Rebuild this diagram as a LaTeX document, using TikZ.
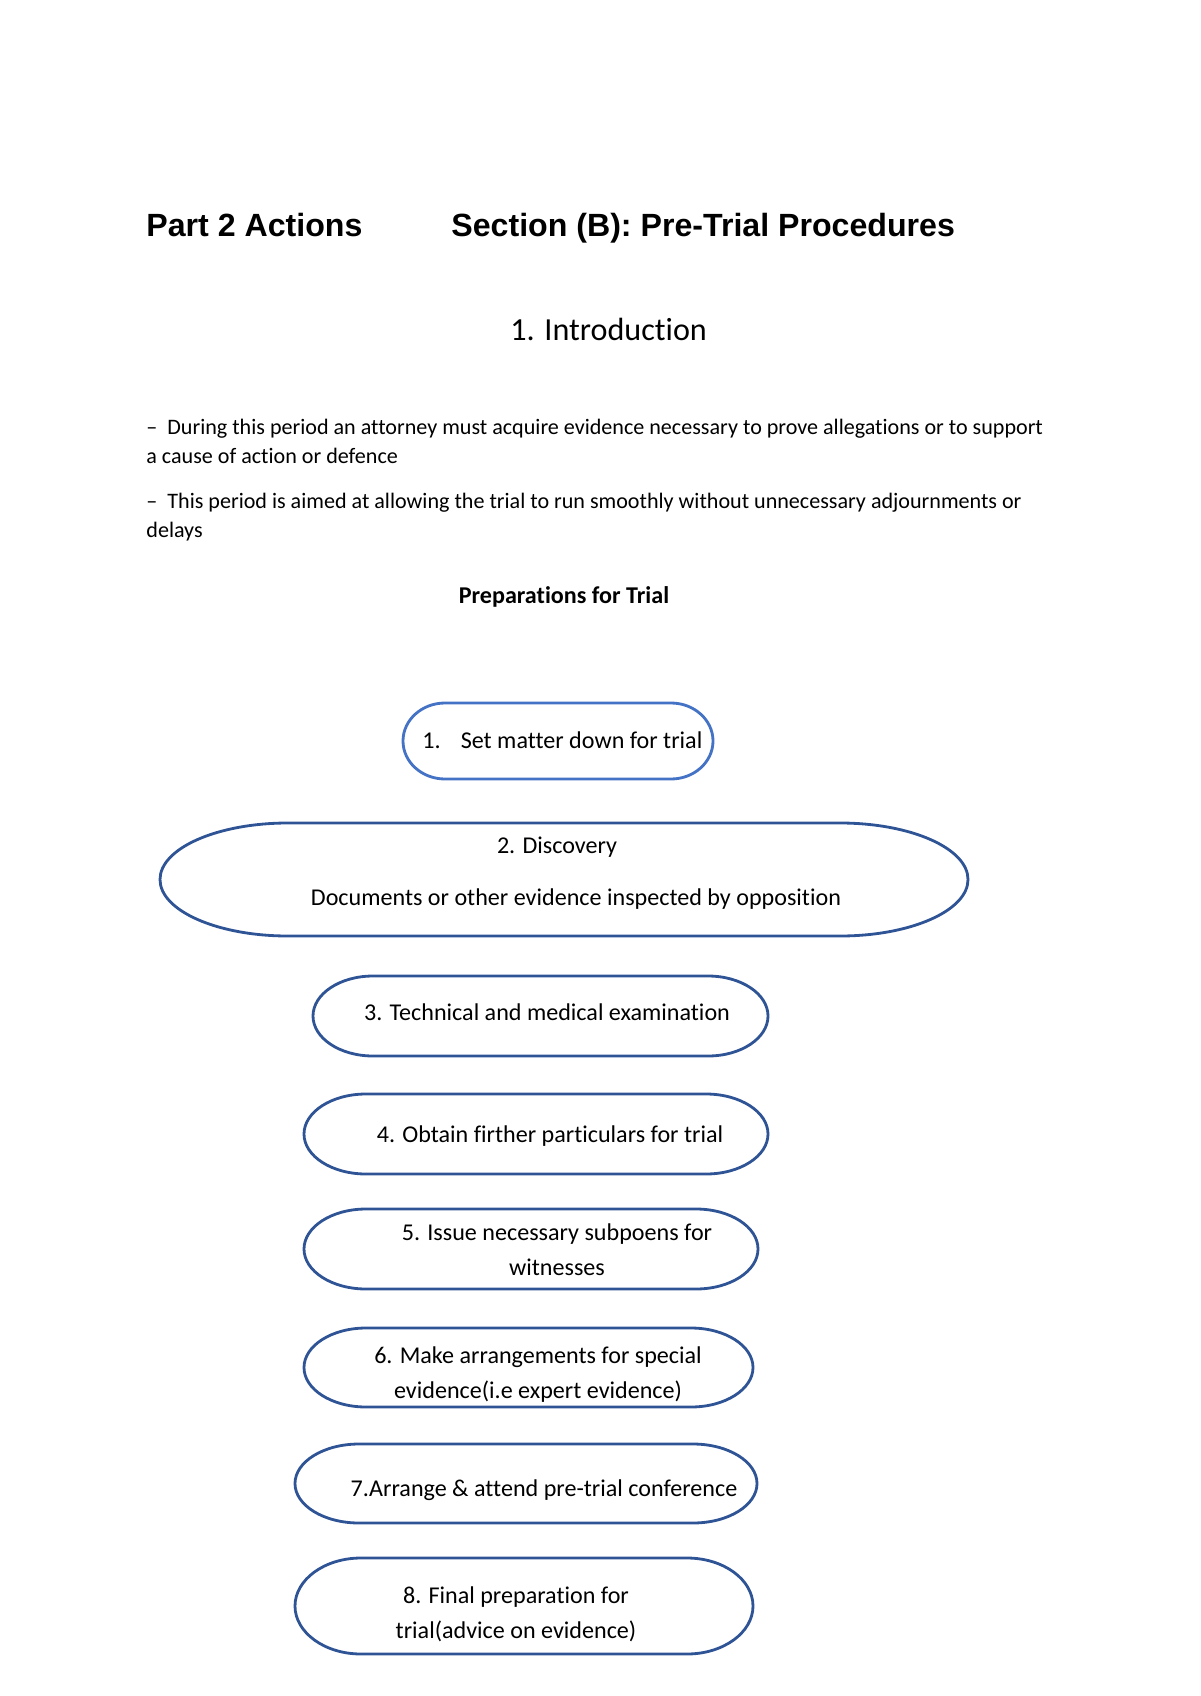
\documentclass[tikz,border=0pt]{standalone}
\usepackage{fontspec}
\setmainfont{Carlito}[Ligatures=CommonOff]
\newfontfamily\headfont{Liberation Sans}
\definecolor{pilllight}{HTML}{4472C4}
\definecolor{pilldark}{HTML}{2F5496}

\begin{document}
\begin{tikzpicture}[x=0.4979pt,y=-0.4979pt,
        boxtext/.style={font=\fontsize{12}{17.4}\selectfont,align=center,anchor=base,inner sep=0pt},
        bodytext/.style={font=\fontsize{11}{14.4}\selectfont,align=left,anchor=base west,inner sep=0pt}]
            \useasboundingbox (0,0) rectangle (1200,1696);
            % headings
            \node (part) at (146,237)[anchor=base west,inner sep=0pt]{\headfont\bfseries\fontsize{16}{19}\selectfont Part 2 Actions};
            \node (section) at (451,237)[anchor=base west,inner sep=0pt]{\headfont\bfseries\fontsize{16}{19}\selectfont Section (B): Pre-Trial Procedures};
            \node (intro) at (510,341)[anchor=base west,inner sep=0pt]{\fontsize{16}{19}\selectfont 1. Introduction};
            % base of a two-line node sits on its last line
            \node (during) at (146,463)[bodytext]{\textendash\ \ During this period an attorney must acquire evidence necessary to prove allegations or to support\\a cause of action or defence};
            \node (aimed) at (146,537)[bodytext]{\textendash\ \ This period is aimed at allowing the trial to run smoothly without unnecessary adjournments or\\delays};
            \node (prep) at (564,603)[anchor=base,inner sep=0pt]{\bfseries\fontsize{12}{14}\selectfont Preparations for Trial};
            % the eight steps
            \foreach \xa/\ya/\xb/\yb/\r/\c in {403/703/713/779/42/pilllight,160/823/968/936/128/pilldark,
                    313/976/768/1056/60/pilldark,304/1094/768/1174/62/pilldark,304/1209/758/1289/62/pilldark,
                    304/1328/753/1407/62/pilldark,295/1444/757/1523/64/pilldark,295/1558/753/1654/66/pilldark}{
                \pgfmathsetmacro\h{(\yb-\ya)/2}
                \draw[\c,line width=1.4pt] (\xa+\r,\ya) -- (\xb-\r,\ya)
                    arc[start angle=-90,end angle=90,x radius=\r,y radius=\h] -- (\xa+\r,\yb)
                    arc[start angle=90,end angle=270,x radius=\r,y radius=\h] -- cycle;
            }
            \node (setdown) at (422,748)[boxtext,anchor=base west]{1.\hspace{10pt}Set matter down for trial};
            \node (discovery) at (557,853)[boxtext]{2. Discovery};
            \node (documents) at (576,905)[boxtext]{Documents or other evidence inspected by opposition};
            \node (technical) at (547,1020)[boxtext]{3. Technical and medical examination};
            \node (particulars) at (550,1142)[boxtext]{4. Obtain firther particulars for trial};
            \node (subpoena) at (557,1275)[boxtext]{5. Issue necessary subpoens for\\witnesses};
            \node (special) at (538,1398)[boxtext]{6. Make arrangements for special\\evidence(i.e expert evidence)};
            \node (conference) at (544,1496)[boxtext]{7.Arrange \& attend pre-trial conference};
            \node (final) at (516,1638)[boxtext]{8. Final preparation for\\trial(advice on evidence)};
        \end{tikzpicture}
\end{document}
